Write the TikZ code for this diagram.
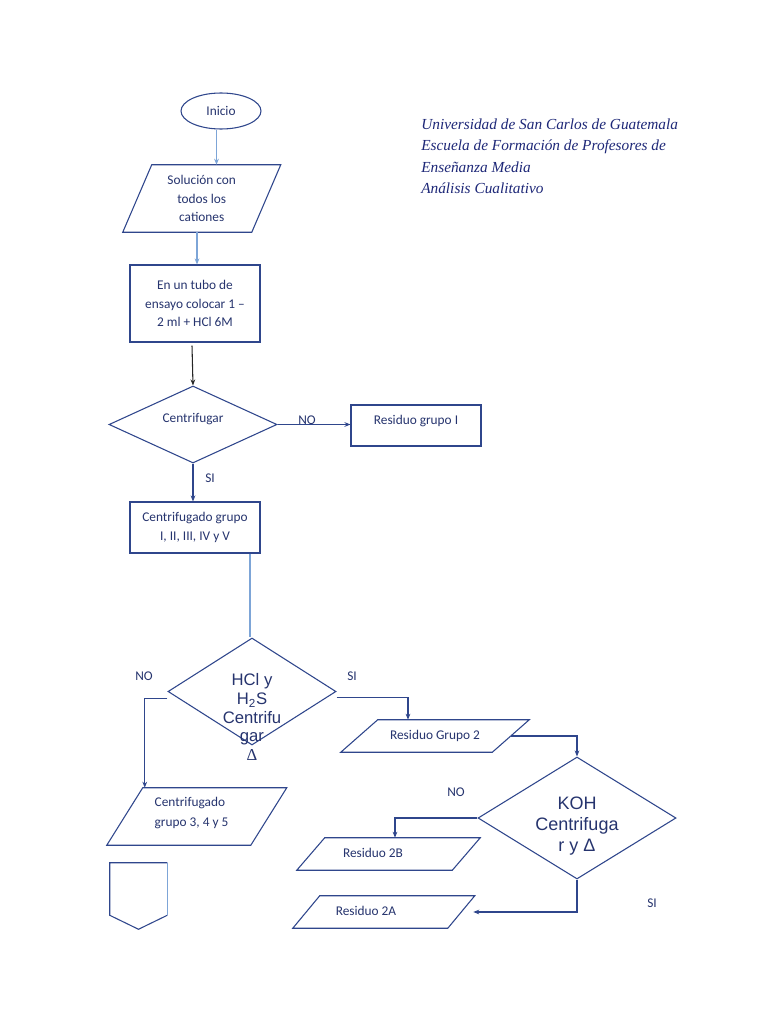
\documentclass[tikz,border=0pt]{standalone}
\usepackage{fontspec}
\setmainfont{Carlito}
\newfontfamily\arialf{Liberation Sans}
\newfontfamily\timesf{Liberation Serif}
\usetikzlibrary{shapes.geometric,calc,arrows.meta}
\definecolor{txt}{RGB}{38,52,110}
\definecolor{ln}{RGB}{47,70,140}
\definecolor{lb}{RGB}{125,165,215}
\definecolor{titc}{RGB}{30,40,120}
\def\px{*0.75pt}
\newcommand{\chanc}{\timesf\itshape\fontsize{11.5}{16}\selectfont}
\newcommand{\parashape}[2]{\draw[shp] ($(#1.north west)+(#2,0)$) -- ($(#1.north east)+(#2,0)$) -- ($(#1.south east)+(-#2,0)$) -- ($(#1.south west)+(-#2,0)$) -- cycle;}
\begin{document}
\begin{tikzpicture}[x=0.75pt,y=-0.75pt,
  every node/.style={text=txt, font=\fontsize{10}{14}\selectfont},
  shp/.style={draw=ln, line width=0.8pt},
  box/.style={shp, rectangle, inner sep=0pt, align=center},
  pbox/.style={rectangle, inner sep=0pt, align=center},
  dia/.style={shp, diamond, inner sep=0pt},
  arr/.style={draw=ln, line width=0.8pt, -{Stealth[length=4.5pt,width=3.5pt]}},
  larr/.style={arr, draw=lb},
  barr/.style={arr, draw=black!85},
  ttl/.style={anchor=base west, inner sep=0pt, text=titc, font=\chanc},
  big/.style={font=\arialf\fontsize{12.5}{14}\selectfont, align=center},
  bigk/.style={font=\arialf\fontsize{13.5}{16}\selectfont, align=center}
]
\useasboundingbox (0,0) rectangle (768,1024);
\fill[white] (0,0) rectangle (768,1024);

% title
\node[ttl] (t1) at (421,129) {Universidad de San Carlos de Guatemala};
\node[ttl] (t2) at (421,150) {Escuela de Formación de Profesores de};
\node[ttl] (t3) at (421,172) {Enseñanza Media};
\node[ttl] (t4) at (421,193) {Análisis Cualitativo};

% nodes
\node[shp, ellipse, minimum width=80\px, minimum height=36\px, inner sep=0pt] (ini) at (221,111) {Inicio};
\node[pbox, minimum width=128.5\px, minimum height=67\px] (sol) at (201.75,198.5) {Solución con\\todos los\\cationes};
\parashape{sol}{14.5}
\node[box, minimum width=130\px, minimum height=77\px] (tubo) at (195,303.5) {En un tubo de\\ensayo colocar 1 –\\2 ml + HCl 6M};
\node[dia, minimum width=168\px, minimum height=77\px] (cen) at (193,424.5) {};
\node (centxt) at (193,419) {Centrifugar};
\node[box, minimum width=130\px, minimum height=41\px] (res1) at (416,425.5) {};
\node (res1txt) at (416,421) {Residuo grupo I};
\node[box, minimum width=130\px, minimum height=51\px] (cg) at (195,527.5) {Centrifugado grupo\\I, II, III, IV y V};
\node[dia, minimum width=168\px, minimum height=107\px] (hcl) at (252,691.5) {};
\node[big] (hcltxt) at (252,717) {HCl y\\H\textsubscript{2}S\\Centrifu\\gar\\{\timesf Δ}};
\node[pbox, minimum width=151\px, minimum height=32\px] (r2) at (435,736) {Residuo Grupo 2};
\parashape{r2}{18.5}
\node[dia, minimum width=198\px, minimum height=122\px] (koh) at (577,818) {};
\node[bigk] (kohtxt) at (577,826) {KOH\\Centrifuga\\r y Δ};
\node[pbox, minimum width=155\px, minimum height=32\px] (r2b) at (388.5,854) {};
\parashape{r2b}{14}
\node (r2btxt) at (373,853) {Residuo 2B};
\node[pbox, minimum width=154.5\px, minimum height=32\px] (r2a) at (383.75,912) {};
\parashape{r2a}{13.5}
\node (r2atxt) at (366,911) {Residuo 2A};
\node[pbox, minimum width=143.5\px, minimum height=57\px] (c345) at (196.75,816.5) {};
\parashape{c345}{18}
\node[anchor=west, align=left, font=\fontsize{10}{15}\selectfont] (c345txt) at (150,813) {Centrifugado\\grupo 3, 4 y 5};
\node[pbox, minimum width=57\px, minimum height=52\px] (off) at (138.5,889) {};
\draw[shp] (off.north east) -- (off.north west) -- (off.south west) -- ($(off.south)+(0,14)$) -- (off.south east);
\draw[draw=lb, line width=0.8pt] (off.north east) -- (off.south east);

% labels
\node (no1) at (307,420) {NO};
\node (si1) at (210,478) {SI};
\node (no2) at (144,676) {NO};
\node (si2) at (352,676) {SI};
\node (no3) at (456,792) {NO};
\node (si3) at (652,903) {SI};

% connectors
\draw[larr] ($(ini.south)+(-4.5,0)$) -- ($(ini.south |- sol.north)+(-4.5,0)$);
\draw[larr] ($(sol.south -| tubo.north)+(2,0)$) -- ($(tubo.north)+(2,0)$);
\draw[barr] ($(tubo.south)+(-3,3)$) -- (cen.north);
\draw[arr] (cen.east) -- (cen.east -| res1.west);
\draw[arr] (cen.south) -- (cen.south |- cg.north);
\draw[draw=lb, line width=0.8pt] ($(cg.south -| hcl.north)+(-2,0)$) -- ($(hcl.north)+(-2,0)$);
\draw[arr] ($(hcl.west)+(0,7)$) -| ($(c345.north west)+(20,0)$);
\draw[arr] ($(hcl.east)+(0,6)$) -| ($(r2.north)+(-27,0)$);
\draw[arr] (r2.east) -| (koh.north);
\draw[arr] (koh.west) -| ($(r2b.north)+(6.5,0)$);
\draw[arr] (koh.south) |- ($(r2a.east)+(12,0)$);
\end{tikzpicture}
\end{document}
